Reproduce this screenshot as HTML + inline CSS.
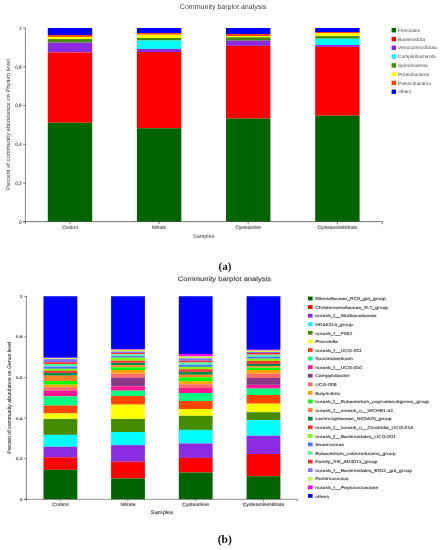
<!DOCTYPE html>
<html><head><meta charset="utf-8"><title>Community barplot analysis</title>
<style>html,body{margin:0;padding:0;background:#fff}svg{display:block}text{text-rendering:geometricPrecision}.b{stroke:#555;stroke-width:0.16px}.a{stroke:#555;stroke-width:0.14px}</style></head>
<body><svg width="440" height="550" viewBox="0 0 440 550">
<rect width="440" height="550" fill="#fff"/>
<text transform="translate(223.1,9.0)" font-size="7.05" text-anchor="middle" fill="#444" font-family="Liberation Sans, sans-serif">Community barplot analysis</text>
<rect x="47.80" y="28.00" width="44.40" height="7.00" fill="#0000ff"/>
<rect x="47.80" y="35.00" width="44.40" height="1.90" fill="#ff4500"/>
<rect x="47.80" y="36.90" width="44.40" height="2.20" fill="#ffff00"/>
<rect x="47.80" y="39.10" width="44.40" height="3.50" fill="#458b00"/>
<rect x="47.80" y="42.60" width="44.40" height="9.90" fill="#8a2be2"/>
<rect x="47.80" y="52.50" width="44.40" height="70.25" fill="#ff0000"/>
<rect x="47.80" y="122.75" width="44.40" height="99.25" fill="#006400"/>
<rect x="136.90" y="28.00" width="44.40" height="5.00" fill="#0000ff"/>
<rect x="136.90" y="33.00" width="44.40" height="1.70" fill="#ff4500"/>
<rect x="136.90" y="34.70" width="44.40" height="3.30" fill="#ffff00"/>
<rect x="136.90" y="38.00" width="44.40" height="2.50" fill="#458b00"/>
<rect x="136.90" y="40.50" width="44.40" height="8.40" fill="#00ffff"/>
<rect x="136.90" y="48.90" width="44.40" height="3.10" fill="#8a2be2"/>
<rect x="136.90" y="52.00" width="44.40" height="76.25" fill="#ff0000"/>
<rect x="136.90" y="128.25" width="44.40" height="93.75" fill="#006400"/>
<rect x="226.00" y="28.00" width="44.40" height="6.00" fill="#0000ff"/>
<rect x="226.00" y="34.00" width="44.40" height="2.00" fill="#ff4500"/>
<rect x="226.00" y="36.00" width="44.40" height="1.30" fill="#ffff00"/>
<rect x="226.00" y="37.30" width="44.40" height="3.40" fill="#458b00"/>
<rect x="226.00" y="40.70" width="44.40" height="5.20" fill="#8a2be2"/>
<rect x="226.00" y="45.90" width="44.40" height="72.70" fill="#ff0000"/>
<rect x="226.00" y="118.60" width="44.40" height="103.40" fill="#006400"/>
<rect x="315.20" y="28.00" width="44.40" height="4.00" fill="#0000ff"/>
<rect x="315.20" y="32.00" width="44.40" height="1.20" fill="#ff4500"/>
<rect x="315.20" y="33.20" width="44.40" height="2.90" fill="#ffff00"/>
<rect x="315.20" y="36.10" width="44.40" height="2.60" fill="#458b00"/>
<rect x="315.20" y="38.70" width="44.40" height="6.30" fill="#00ffff"/>
<rect x="315.20" y="45.00" width="44.40" height="1.90" fill="#8a2be2"/>
<rect x="315.20" y="46.90" width="44.40" height="68.80" fill="#ff0000"/>
<rect x="315.20" y="115.70" width="44.40" height="106.30" fill="#006400"/>
<line x1="25.4" y1="27.7" x2="25.4" y2="224.0" stroke="#555" stroke-width="0.7"/>
<line x1="23.0" y1="221.6" x2="382.5" y2="221.6" stroke="#555" stroke-width="0.8"/>
<line x1="23.2" y1="222.0" x2="25.4" y2="222.0" stroke="#555" stroke-width="0.8"/>
<text transform="translate(21.7,223.8) scale(0.95,1)" font-size="4.9" text-anchor="end" fill="#555" font-family="Liberation Sans, sans-serif" class="a">0</text>
<line x1="23.2" y1="183.2" x2="25.4" y2="183.2" stroke="#555" stroke-width="0.8"/>
<text transform="translate(21.7,185.0) scale(0.95,1)" font-size="4.9" text-anchor="end" fill="#555" font-family="Liberation Sans, sans-serif" class="a">0.2</text>
<line x1="23.2" y1="144.39999999999998" x2="25.4" y2="144.39999999999998" stroke="#555" stroke-width="0.8"/>
<text transform="translate(21.7,146.2) scale(0.95,1)" font-size="4.9" text-anchor="end" fill="#555" font-family="Liberation Sans, sans-serif" class="a">0.4</text>
<line x1="23.2" y1="105.60000000000001" x2="25.4" y2="105.60000000000001" stroke="#555" stroke-width="0.8"/>
<text transform="translate(21.7,107.4) scale(0.95,1)" font-size="4.9" text-anchor="end" fill="#555" font-family="Liberation Sans, sans-serif" class="a">0.6</text>
<line x1="23.2" y1="66.79999999999998" x2="25.4" y2="66.79999999999998" stroke="#555" stroke-width="0.8"/>
<text transform="translate(21.7,68.59999999999998) scale(0.95,1)" font-size="4.9" text-anchor="end" fill="#555" font-family="Liberation Sans, sans-serif" class="a">0.8</text>
<line x1="23.2" y1="28.0" x2="25.4" y2="28.0" stroke="#555" stroke-width="0.8"/>
<text transform="translate(21.7,29.8) scale(0.95,1)" font-size="4.9" text-anchor="end" fill="#555" font-family="Liberation Sans, sans-serif" class="a">1</text>
<line x1="70" y1="222.0" x2="70" y2="224.2" stroke="#555" stroke-width="0.8"/>
<text transform="translate(70,229.1)" font-size="4.85" text-anchor="middle" fill="#555" font-family="Liberation Sans, sans-serif" class="a">Control</text>
<line x1="159.1" y1="222.0" x2="159.1" y2="224.2" stroke="#555" stroke-width="0.8"/>
<text transform="translate(159.1,229.1)" font-size="4.85" text-anchor="middle" fill="#555" font-family="Liberation Sans, sans-serif" class="a">Nitrate</text>
<line x1="248.2" y1="222.0" x2="248.2" y2="224.2" stroke="#555" stroke-width="0.8"/>
<text transform="translate(248.2,229.1)" font-size="4.85" text-anchor="middle" fill="#555" font-family="Liberation Sans, sans-serif" class="a">Cysteamine</text>
<line x1="337.4" y1="222.0" x2="337.4" y2="224.2" stroke="#555" stroke-width="0.8"/>
<text transform="translate(337.4,229.1)" font-size="4.85" text-anchor="middle" fill="#555" font-family="Liberation Sans, sans-serif" class="a">CysteamineNitrate</text>
<line x1="382.3" y1="222.0" x2="382.3" y2="224.2" stroke="#555" stroke-width="0.8"/>
<text transform="translate(203.7,238.2)" font-size="5.5" text-anchor="middle" fill="#444" font-family="Liberation Sans, sans-serif">Samples</text>
<text transform="translate(10.1,124.6) rotate(-90)" font-size="5.88" text-anchor="middle" fill="#444" font-family="Liberation Sans, sans-serif">Percent of community abundance on Phylum level</text>
<rect x="391.60" y="28.00" width="4.40" height="4.40" fill="#006400"/>
<text transform="translate(398,31.9)" font-size="4.8" text-anchor="start" fill="#444" font-family="Liberation Sans, sans-serif">Firmicutes</text>
<rect x="391.60" y="36.79" width="4.40" height="4.40" fill="#ff0000"/>
<text transform="translate(398,40.69)" font-size="4.8" text-anchor="start" fill="#444" font-family="Liberation Sans, sans-serif">Bacteroidota</text>
<rect x="391.60" y="45.58" width="4.40" height="4.40" fill="#8a2be2"/>
<text transform="translate(398,49.480000000000004)" font-size="4.8" text-anchor="start" fill="#444" font-family="Liberation Sans, sans-serif">Verrucomicrobiota</text>
<rect x="391.60" y="54.37" width="4.40" height="4.40" fill="#00ffff"/>
<text transform="translate(398,58.269999999999996)" font-size="4.8" text-anchor="start" fill="#444" font-family="Liberation Sans, sans-serif">Campilobacterota</text>
<rect x="391.60" y="63.16" width="4.40" height="4.40" fill="#458b00"/>
<text transform="translate(398,67.06)" font-size="4.8" text-anchor="start" fill="#444" font-family="Liberation Sans, sans-serif">Spirochaetota</text>
<rect x="391.60" y="71.95" width="4.40" height="4.40" fill="#ffff00"/>
<text transform="translate(398,75.85)" font-size="4.8" text-anchor="start" fill="#444" font-family="Liberation Sans, sans-serif">Proteobacteria</text>
<rect x="391.60" y="80.74" width="4.40" height="4.40" fill="#ff4500"/>
<text transform="translate(398,84.64)" font-size="4.8" text-anchor="start" fill="#444" font-family="Liberation Sans, sans-serif">Patescibacteria</text>
<rect x="391.60" y="89.53" width="4.40" height="4.40" fill="#0000ff"/>
<text transform="translate(398,93.42999999999999)" font-size="4.8" text-anchor="start" fill="#444" font-family="Liberation Sans, sans-serif">others</text>
<text transform="translate(225,270.0)" font-size="11" text-anchor="middle" fill="#111" font-family="Liberation Serif, sans-serif" font-weight="bold">(a)</text>
<text transform="translate(224.4,280.6) scale(1.19,1)" font-size="6.4" text-anchor="middle" fill="#444" font-family="Liberation Sans, sans-serif" class="b">Community barplot analysis</text>
<rect x="43.50" y="296.25" width="33.80" height="61.45" fill="#0000ff"/>
<rect x="43.50" y="357.70" width="33.80" height="0.50" fill="#ff00ff"/>
<rect x="43.50" y="358.20" width="33.80" height="0.90" fill="#c0ff3e"/>
<rect x="43.50" y="359.10" width="33.80" height="3.10" fill="#8470ff"/>
<rect x="43.50" y="362.20" width="33.80" height="1.80" fill="#ff3030"/>
<rect x="43.50" y="364.00" width="33.80" height="2.55" fill="#54ff9f"/>
<rect x="43.50" y="366.55" width="33.80" height="2.25" fill="#4876ff"/>
<rect x="43.50" y="368.80" width="33.80" height="2.00" fill="#7fff00"/>
<rect x="43.50" y="370.80" width="33.80" height="2.10" fill="#ff3030"/>
<rect x="43.50" y="372.90" width="33.80" height="2.80" fill="#008b45"/>
<rect x="43.50" y="375.70" width="33.80" height="5.40" fill="#ff7f24"/>
<rect x="43.50" y="381.10" width="33.80" height="3.60" fill="#00ff00"/>
<rect x="43.50" y="384.70" width="33.80" height="2.60" fill="#ffa500"/>
<rect x="43.50" y="387.30" width="33.80" height="3.20" fill="#ff6a6a"/>
<rect x="43.50" y="390.50" width="33.80" height="5.90" fill="#ff1493"/>
<rect x="43.50" y="396.40" width="33.80" height="9.10" fill="#00ff7f"/>
<rect x="43.50" y="405.50" width="33.80" height="7.90" fill="#ff4500"/>
<rect x="43.50" y="413.40" width="33.80" height="5.50" fill="#ffff00"/>
<rect x="43.50" y="418.90" width="33.80" height="16.00" fill="#458b00"/>
<rect x="43.50" y="434.90" width="33.80" height="11.90" fill="#00ffff"/>
<rect x="43.50" y="446.80" width="33.80" height="10.50" fill="#8a2be2"/>
<rect x="43.50" y="457.30" width="33.80" height="12.50" fill="#ff0000"/>
<rect x="43.50" y="469.80" width="33.80" height="29.45" fill="#006400"/>
<rect x="111.10" y="296.25" width="33.80" height="52.85" fill="#0000ff"/>
<rect x="111.10" y="349.10" width="33.80" height="0.70" fill="#ff00ff"/>
<rect x="111.10" y="349.80" width="33.80" height="1.80" fill="#c0ff3e"/>
<rect x="111.10" y="351.60" width="33.80" height="1.40" fill="#8470ff"/>
<rect x="111.10" y="353.00" width="33.80" height="1.30" fill="#ff3030"/>
<rect x="111.10" y="354.30" width="33.80" height="1.80" fill="#54ff9f"/>
<rect x="111.10" y="356.10" width="33.80" height="1.60" fill="#4876ff"/>
<rect x="111.10" y="357.70" width="33.80" height="3.00" fill="#7fff00"/>
<rect x="111.10" y="360.70" width="33.80" height="2.10" fill="#ff3030"/>
<rect x="111.10" y="362.80" width="33.80" height="2.40" fill="#008b45"/>
<rect x="111.10" y="365.20" width="33.80" height="2.10" fill="#ff7f24"/>
<rect x="111.10" y="367.30" width="33.80" height="2.70" fill="#00ff00"/>
<rect x="111.10" y="370.00" width="33.80" height="3.70" fill="#ffa500"/>
<rect x="111.10" y="373.70" width="33.80" height="3.90" fill="#ff6a6a"/>
<rect x="111.10" y="377.60" width="33.80" height="8.70" fill="#8b3a8b"/>
<rect x="111.10" y="386.30" width="33.80" height="4.40" fill="#ff1493"/>
<rect x="111.10" y="390.70" width="33.80" height="5.20" fill="#00ff7f"/>
<rect x="111.10" y="395.90" width="33.80" height="8.70" fill="#ff4500"/>
<rect x="111.10" y="404.60" width="33.80" height="14.40" fill="#ffff00"/>
<rect x="111.10" y="419.00" width="33.80" height="13.00" fill="#458b00"/>
<rect x="111.10" y="432.00" width="33.80" height="13.10" fill="#00ffff"/>
<rect x="111.10" y="445.10" width="33.80" height="16.60" fill="#8a2be2"/>
<rect x="111.10" y="461.70" width="33.80" height="16.70" fill="#ff0000"/>
<rect x="111.10" y="478.40" width="33.80" height="20.85" fill="#006400"/>
<rect x="178.80" y="296.25" width="33.80" height="57.80" fill="#0000ff"/>
<rect x="178.80" y="354.05" width="33.80" height="2.35" fill="#ff00ff"/>
<rect x="178.80" y="356.40" width="33.80" height="2.00" fill="#c0ff3e"/>
<rect x="178.80" y="358.40" width="33.80" height="2.30" fill="#8470ff"/>
<rect x="178.80" y="360.70" width="33.80" height="1.80" fill="#ff3030"/>
<rect x="178.80" y="362.50" width="33.80" height="2.30" fill="#54ff9f"/>
<rect x="178.80" y="364.80" width="33.80" height="2.10" fill="#4876ff"/>
<rect x="178.80" y="366.90" width="33.80" height="2.40" fill="#7fff00"/>
<rect x="178.80" y="369.30" width="33.80" height="2.50" fill="#ff3030"/>
<rect x="178.80" y="371.80" width="33.80" height="3.00" fill="#008b45"/>
<rect x="178.80" y="374.80" width="33.80" height="2.60" fill="#ff7f24"/>
<rect x="178.80" y="377.40" width="33.80" height="3.90" fill="#00ff00"/>
<rect x="178.80" y="381.30" width="33.80" height="2.95" fill="#ffa500"/>
<rect x="178.80" y="384.25" width="33.80" height="3.65" fill="#ff6a6a"/>
<rect x="178.80" y="387.90" width="33.80" height="5.10" fill="#ff1493"/>
<rect x="178.80" y="393.00" width="33.80" height="8.00" fill="#00ff7f"/>
<rect x="178.80" y="401.00" width="33.80" height="8.00" fill="#ff4500"/>
<rect x="178.80" y="409.00" width="33.80" height="6.80" fill="#ffff00"/>
<rect x="178.80" y="415.80" width="33.80" height="14.10" fill="#458b00"/>
<rect x="178.80" y="429.90" width="33.80" height="13.55" fill="#00ffff"/>
<rect x="178.80" y="443.45" width="33.80" height="14.45" fill="#8a2be2"/>
<rect x="178.80" y="457.90" width="33.80" height="14.60" fill="#ff0000"/>
<rect x="178.80" y="472.50" width="33.80" height="26.75" fill="#006400"/>
<rect x="246.60" y="296.25" width="33.80" height="53.55" fill="#0000ff"/>
<rect x="246.60" y="349.80" width="33.80" height="0.80" fill="#ff00ff"/>
<rect x="246.60" y="350.60" width="33.80" height="1.40" fill="#c0ff3e"/>
<rect x="246.60" y="352.00" width="33.80" height="1.00" fill="#8470ff"/>
<rect x="246.60" y="353.00" width="33.80" height="1.70" fill="#ff3030"/>
<rect x="246.60" y="354.70" width="33.80" height="1.90" fill="#54ff9f"/>
<rect x="246.60" y="356.60" width="33.80" height="2.10" fill="#4876ff"/>
<rect x="246.60" y="358.70" width="33.80" height="2.20" fill="#7fff00"/>
<rect x="246.60" y="360.90" width="33.80" height="3.00" fill="#ff3030"/>
<rect x="246.60" y="363.90" width="33.80" height="2.30" fill="#008b45"/>
<rect x="246.60" y="366.20" width="33.80" height="1.50" fill="#ff7f24"/>
<rect x="246.60" y="367.70" width="33.80" height="2.30" fill="#00ff00"/>
<rect x="246.60" y="370.00" width="33.80" height="3.70" fill="#ffa500"/>
<rect x="246.60" y="373.70" width="33.80" height="4.30" fill="#ff6a6a"/>
<rect x="246.60" y="378.00" width="33.80" height="6.80" fill="#8b3a8b"/>
<rect x="246.60" y="384.80" width="33.80" height="3.80" fill="#ff1493"/>
<rect x="246.60" y="388.60" width="33.80" height="6.40" fill="#00ff7f"/>
<rect x="246.60" y="395.00" width="33.80" height="8.70" fill="#ff4500"/>
<rect x="246.60" y="403.70" width="33.80" height="8.50" fill="#ffff00"/>
<rect x="246.60" y="412.20" width="33.80" height="8.00" fill="#458b00"/>
<rect x="246.60" y="420.20" width="33.80" height="15.55" fill="#00ffff"/>
<rect x="246.60" y="435.75" width="33.80" height="18.25" fill="#8a2be2"/>
<rect x="246.60" y="454.00" width="33.80" height="22.25" fill="#ff0000"/>
<rect x="246.60" y="476.25" width="33.80" height="23.00" fill="#006400"/>
<line x1="26.4" y1="295.95" x2="26.4" y2="501.35" stroke="#444" stroke-width="0.65"/>
<line x1="24.0" y1="499.35" x2="297.5" y2="499.35" stroke="#444" stroke-width="0.6"/>
<line x1="24.0" y1="499.35" x2="26.4" y2="499.35" stroke="#444" stroke-width="0.6"/>
<text transform="translate(22.5,500.75) scale(1.25,1)" font-size="3.9" text-anchor="end" fill="#444" font-family="Liberation Sans, sans-serif" class="b">0</text>
<line x1="24.0" y1="458.75" x2="26.4" y2="458.75" stroke="#444" stroke-width="0.6"/>
<text transform="translate(22.5,460.15) scale(1.25,1)" font-size="3.9" text-anchor="end" fill="#444" font-family="Liberation Sans, sans-serif" class="b">0.2</text>
<line x1="24.0" y1="418.15000000000003" x2="26.4" y2="418.15000000000003" stroke="#444" stroke-width="0.6"/>
<text transform="translate(22.5,419.55) scale(1.25,1)" font-size="3.9" text-anchor="end" fill="#444" font-family="Liberation Sans, sans-serif" class="b">0.4</text>
<line x1="24.0" y1="377.55" x2="26.4" y2="377.55" stroke="#444" stroke-width="0.6"/>
<text transform="translate(22.5,378.95) scale(1.25,1)" font-size="3.9" text-anchor="end" fill="#444" font-family="Liberation Sans, sans-serif" class="b">0.6</text>
<line x1="24.0" y1="336.95000000000005" x2="26.4" y2="336.95000000000005" stroke="#444" stroke-width="0.6"/>
<text transform="translate(22.5,338.35) scale(1.25,1)" font-size="3.9" text-anchor="end" fill="#444" font-family="Liberation Sans, sans-serif" class="b">0.8</text>
<line x1="24.0" y1="296.35" x2="26.4" y2="296.35" stroke="#444" stroke-width="0.6"/>
<text transform="translate(22.5,297.75) scale(1.25,1)" font-size="3.9" text-anchor="end" fill="#444" font-family="Liberation Sans, sans-serif" class="b">1</text>
<line x1="60.4" y1="499.25" x2="60.4" y2="501.25" stroke="#444" stroke-width="0.6"/>
<text transform="translate(60.4,505.65) scale(1.065,1)" font-size="4.75" text-anchor="middle" fill="#444" font-family="Liberation Sans, sans-serif" class="b">Control</text>
<line x1="128" y1="499.25" x2="128" y2="501.25" stroke="#444" stroke-width="0.6"/>
<text transform="translate(128,505.65) scale(1.065,1)" font-size="4.75" text-anchor="middle" fill="#444" font-family="Liberation Sans, sans-serif" class="b">Nitrate</text>
<line x1="195.7" y1="499.25" x2="195.7" y2="501.25" stroke="#444" stroke-width="0.6"/>
<text transform="translate(195.7,505.65) scale(1.065,1)" font-size="4.75" text-anchor="middle" fill="#444" font-family="Liberation Sans, sans-serif" class="b">Cysteamine</text>
<line x1="263.5" y1="499.25" x2="263.5" y2="501.25" stroke="#444" stroke-width="0.6"/>
<text transform="translate(263.5,505.65) scale(1.065,1)" font-size="4.75" text-anchor="middle" fill="#444" font-family="Liberation Sans, sans-serif" class="b">CysteamineNitrate</text>
<line x1="297.3" y1="499.25" x2="297.3" y2="501.25" stroke="#444" stroke-width="0.6"/>
<text transform="translate(162,514.0) scale(1.13,1)" font-size="5.1" text-anchor="middle" fill="#444" font-family="Liberation Sans, sans-serif" class="b">Samples</text>
<text transform="translate(10.8,397.8) rotate(-90)" font-size="5.14" text-anchor="middle" fill="#444" font-family="Liberation Sans, sans-serif" class="b">Percent of community abundance on Genus level</text>
<rect x="308.00" y="296.60" width="4.60" height="3.80" fill="#006400"/>
<text transform="translate(315.2,300.20000000000005) scale(1.215,1)" font-size="4.2" text-anchor="start" fill="#444" font-family="Liberation Sans, sans-serif" class="b">Rikenellaceae_RC9_gut_group</text>
<rect x="308.00" y="305.18" width="4.60" height="3.80" fill="#ff0000"/>
<text transform="translate(315.2,308.7830000000001) scale(1.215,1)" font-size="4.2" text-anchor="start" fill="#444" font-family="Liberation Sans, sans-serif" class="b">Christensenellaceae_R-7_group</text>
<rect x="308.00" y="313.77" width="4.60" height="3.80" fill="#8a2be2"/>
<text transform="translate(315.2,317.36600000000004) scale(1.215,1)" font-size="4.2" text-anchor="start" fill="#444" font-family="Liberation Sans, sans-serif" class="b">norank_f__Muribaculaceae</text>
<rect x="308.00" y="322.35" width="4.60" height="3.80" fill="#00ffff"/>
<text transform="translate(315.2,325.94900000000007) scale(1.215,1)" font-size="4.2" text-anchor="start" fill="#444" font-family="Liberation Sans, sans-serif" class="b">NK4A214_group</text>
<rect x="308.00" y="330.93" width="4.60" height="3.80" fill="#458b00"/>
<text transform="translate(315.2,334.53200000000004) scale(1.215,1)" font-size="4.2" text-anchor="start" fill="#444" font-family="Liberation Sans, sans-serif" class="b">norank_f__F082</text>
<rect x="308.00" y="339.52" width="4.60" height="3.80" fill="#ffff00"/>
<text transform="translate(315.2,343.11500000000007) scale(1.215,1)" font-size="4.2" text-anchor="start" fill="#444" font-family="Liberation Sans, sans-serif" class="b">Prevotella</text>
<rect x="308.00" y="348.10" width="4.60" height="3.80" fill="#ff4500"/>
<text transform="translate(315.2,351.69800000000004) scale(1.215,1)" font-size="4.2" text-anchor="start" fill="#444" font-family="Liberation Sans, sans-serif" class="b">norank_f__UCG-011</text>
<rect x="308.00" y="356.68" width="4.60" height="3.80" fill="#00ff7f"/>
<text transform="translate(315.2,360.28100000000006) scale(1.215,1)" font-size="4.2" text-anchor="start" fill="#444" font-family="Liberation Sans, sans-serif" class="b">Succiniclasticum</text>
<rect x="308.00" y="365.26" width="4.60" height="3.80" fill="#ff1493"/>
<text transform="translate(315.2,368.86400000000003) scale(1.215,1)" font-size="4.2" text-anchor="start" fill="#444" font-family="Liberation Sans, sans-serif" class="b">norank_f__UCG-010</text>
<rect x="308.00" y="373.85" width="4.60" height="3.80" fill="#8b3a8b"/>
<text transform="translate(315.2,377.44700000000006) scale(1.215,1)" font-size="4.2" text-anchor="start" fill="#444" font-family="Liberation Sans, sans-serif" class="b">Campylobacter</text>
<rect x="308.00" y="382.43" width="4.60" height="3.80" fill="#ff6a6a"/>
<text transform="translate(315.2,386.03000000000003) scale(1.215,1)" font-size="4.2" text-anchor="start" fill="#444" font-family="Liberation Sans, sans-serif" class="b">UCG-005</text>
<rect x="308.00" y="391.01" width="4.60" height="3.80" fill="#ffa500"/>
<text transform="translate(315.2,394.61300000000006) scale(1.215,1)" font-size="4.2" text-anchor="start" fill="#444" font-family="Liberation Sans, sans-serif" class="b">Butyrivibrio</text>
<rect x="308.00" y="399.60" width="4.60" height="3.80" fill="#00ff00"/>
<text transform="translate(315.2,403.196) scale(1.215,1)" font-size="4.2" text-anchor="start" fill="#444" font-family="Liberation Sans, sans-serif" class="b">norank_f__Eubacterium_coprostanoligenes_group</text>
<rect x="308.00" y="408.18" width="4.60" height="3.80" fill="#ff7f24"/>
<text transform="translate(315.2,411.77900000000005) scale(1.215,1)" font-size="4.2" text-anchor="start" fill="#444" font-family="Liberation Sans, sans-serif" class="b">norank_f__norank_o__WCHB1-41</text>
<rect x="308.00" y="416.76" width="4.60" height="3.80" fill="#008b45"/>
<text transform="translate(315.2,420.3620000000001) scale(1.215,1)" font-size="4.2" text-anchor="start" fill="#444" font-family="Liberation Sans, sans-serif" class="b">Lachnospiraceae_NK3A20_group</text>
<rect x="308.00" y="425.35" width="4.60" height="3.80" fill="#ff3030"/>
<text transform="translate(315.2,428.94500000000005) scale(1.215,1)" font-size="4.2" text-anchor="start" fill="#444" font-family="Liberation Sans, sans-serif" class="b">norank_f__norank_o__Clostridia_UCG-014</text>
<rect x="308.00" y="433.93" width="4.60" height="3.80" fill="#7fff00"/>
<text transform="translate(315.2,437.528) scale(1.215,1)" font-size="4.2" text-anchor="start" fill="#444" font-family="Liberation Sans, sans-serif" class="b">norank_f__Bacteroidales_UCG-001</text>
<rect x="308.00" y="442.51" width="4.60" height="3.80" fill="#4876ff"/>
<text transform="translate(315.2,446.11100000000005) scale(1.215,1)" font-size="4.2" text-anchor="start" fill="#444" font-family="Liberation Sans, sans-serif" class="b">Anaerovorax</text>
<rect x="308.00" y="451.09" width="4.60" height="3.80" fill="#54ff9f"/>
<text transform="translate(315.2,454.6940000000001) scale(1.215,1)" font-size="4.2" text-anchor="start" fill="#444" font-family="Liberation Sans, sans-serif" class="b">Eubacterium_oxidoreducens_group</text>
<rect x="308.00" y="459.68" width="4.60" height="3.80" fill="#ff3030"/>
<text transform="translate(315.2,463.27700000000004) scale(1.215,1)" font-size="4.2" text-anchor="start" fill="#444" font-family="Liberation Sans, sans-serif" class="b">Family_XIII_AD3011_group</text>
<rect x="308.00" y="468.26" width="4.60" height="3.80" fill="#8470ff"/>
<text transform="translate(315.2,471.86) scale(1.215,1)" font-size="4.2" text-anchor="start" fill="#444" font-family="Liberation Sans, sans-serif" class="b">norank_f__Bacteroidales_BS11_gut_group</text>
<rect x="308.00" y="476.84" width="4.60" height="3.80" fill="#c0ff3e"/>
<text transform="translate(315.2,480.44300000000004) scale(1.215,1)" font-size="4.2" text-anchor="start" fill="#444" font-family="Liberation Sans, sans-serif" class="b">Ruminococcus</text>
<rect x="308.00" y="485.43" width="4.60" height="3.80" fill="#ff00ff"/>
<text transform="translate(315.2,489.02600000000007) scale(1.215,1)" font-size="4.2" text-anchor="start" fill="#444" font-family="Liberation Sans, sans-serif" class="b">norank_f__Peptococcaceae</text>
<rect x="308.00" y="494.01" width="4.60" height="3.80" fill="#0000ff"/>
<text transform="translate(315.2,497.60900000000004) scale(1.215,1)" font-size="4.2" text-anchor="start" fill="#444" font-family="Liberation Sans, sans-serif" class="b">others</text>
<text transform="translate(224.7,542.7)" font-size="11.5" text-anchor="middle" fill="#111" font-family="Liberation Serif, sans-serif" font-weight="bold">(b)</text>
</svg></body></html>
